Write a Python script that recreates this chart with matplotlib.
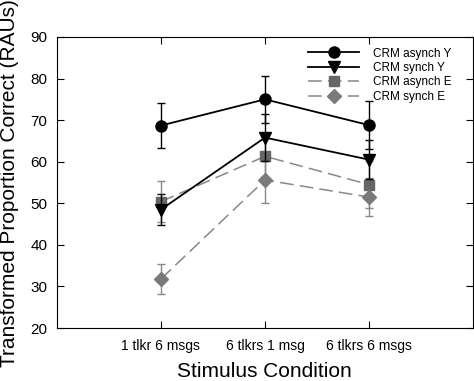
import numpy as np
import matplotlib
matplotlib.use("Agg")
import matplotlib.pyplot as plt

plt.rcParams['font.family'] = ['Liberation Sans', 'DejaVu Sans']

# stimulus conditions
conds = ["1 tlkr 6 msgs", "6 tlkrs 1 msg", "6 tlkrs 6 msgs"]

# means and error bar half-widths (RAUs)
asynchY = [68.7, 75.0, 68.8]
asynchY_err = [5.3, 5.7, 5.8]
synchY = [48.5, 65.8, 60.5]
synchY_err = [3.7, 5.7, 4.7]
asynchE = [50.4, 61.3, 54.5]
asynchE_err = [5.0, 5.5, 5.7]
synchE = [31.8, 55.6, 51.5]
synchE_err = [3.5, 5.5, 4.5]

x = np.arange(1, len(conds) + 1)

fig = plt.figure(figsize=(4.74, 3.81), dpi=100)
ax = fig.add_axes([0.120, 0.139, 0.878, 0.764])

dash = (0, (9, 4))
ax.errorbar(x, asynchY, yerr=asynchY_err, color='black', ecolor='black', lw=1.3,
            elinewidth=1, capsize=3, marker='o', ms=8, label="CRM asynch Y", zorder=4)
ax.errorbar(x, synchY, yerr=synchY_err, color='black', ecolor='black', lw=1.3,
            elinewidth=1, capsize=3, marker='v', ms=8, label="CRM synch Y", zorder=4)
ax.errorbar(x, asynchE, yerr=asynchE_err, color='#888888', ecolor='#888888', lw=1.1,
            ls=dash, elinewidth=1, capsize=3, marker='s', ms=7, mfc='#666666',
            mec='#666666', label="CRM asynch E", zorder=3)
ax.errorbar(x, synchE, yerr=synchE_err, color='#888888', ecolor='#888888', lw=1.1,
            ls=dash, elinewidth=1, capsize=3, marker='D', ms=7, mfc='#7a7a7a',
            mec='#7a7a7a', label="CRM synch E", zorder=3)

ax.set_xlim(0, 4)
ax.set_ylim(20, 90)
ax.set_xticks(x)
ax.set_xticklabels(conds, fontsize=10)
ax.set_yticks(np.arange(20, 91, 10))
ax.tick_params(axis='y', labelsize=11, pad=7)
ax.tick_params(direction='in', length=5, top=True, right=True, width=0.8)
ax.tick_params(axis='x', pad=8)
for s in ax.spines.values():
    s.set_linewidth(0.8)

handles, labels = ax.get_legend_handles_labels()
handles = [h[0] for h in handles]
ax.legend(handles, labels, loc='upper right', bbox_to_anchor=(0.975, 1.0), frameon=False,
          fontsize=8.5, handlelength=4.3, labelspacing=0.2, handletextpad=1.2)

fig.text(264 / 474, 4 / 381, "Stimulus Condition", fontsize=15, ha='center', va='baseline')
fig.text(10 / 474, 0.52, "Transformed Proportion Correct (RAUs)", fontsize=15,
         rotation=90, ha='center', va='center')

fig.savefig("out.png", dpi=100)
